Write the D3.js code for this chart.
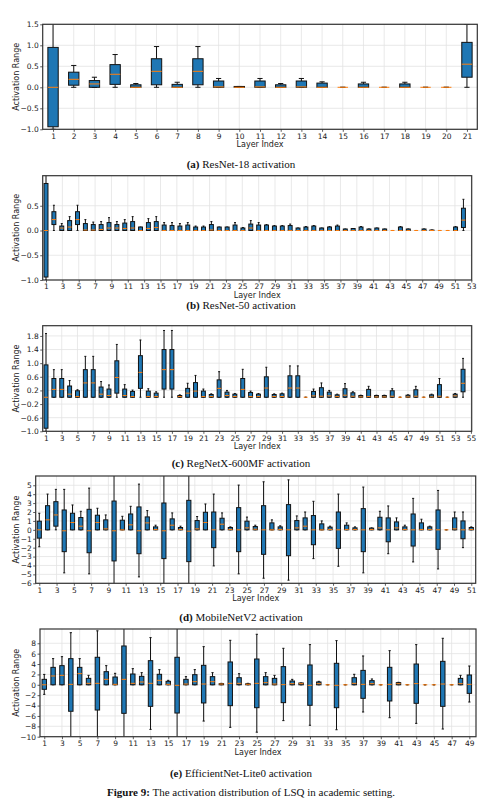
<!DOCTYPE html>
<html>
<head>
<meta charset="utf-8">
<script src="https://cdn.jsdelivr.net/npm/d3@7"></script>
<style>
  body { margin: 0; background: #fff; }
  svg { display: block; }
</style>
</head>
<body>
<svg id="fig" width="501" height="803"></svg>
<script>
// each row: [whisker low, q1, median, q3, whisker high] for one layer
var resnet18 = [
  [-1.0, -0.94, 0, 0.95, 1.6], [0, 0.05, 0.19, 0.36, 0.52], [0, 0, 0.08, 0.16, 0.24],
  [0, 0.07, 0.31, 0.54, 0.78], [0, 0, 0, 0.06, 0.09], [0, 0.06, 0.38, 0.68, 0.97],
  [0, 0, 0, 0.07, 0.12], [0, 0.06, 0.38, 0.68, 0.97], [0, 0, 0.01, 0.15, 0.21],
  [0, 0, 0, 0.02, 0.02], [0, 0, 0.01, 0.15, 0.21], [0, 0, 0, 0.06, 0.09],
  [0, 0, 0.01, 0.15, 0.21], [0, 0, 0, 0.1, 0.13], [0, 0, 0, 0, 0],
  [0, 0, 0, 0.08, 0.12], [0, 0, 0, 0, 0], [0, 0, 0, 0.08, 0.12],
  [0, 0, 0, 0, 0], [0, 0, 0, 0, 0], [0, 0.24, 0.55, 1.07, 1.5]
];

var resnet50 = [
  [-1.0, -0.94, 0, 0.95, 1.3], [0, 0.12, 0.22, 0.38, 0.51], [0, 0, 0.05, 0.09, 0.14],
  [0, 0, 0.07, 0.2, 0.28], [0, 0.12, 0.22, 0.38, 0.51], [0, 0, 0.01, 0.14, 0.22],
  [0, 0, 0.01, 0.12, 0.17], [0, 0, 0.02, 0.12, 0.18], [0, 0, 0.05, 0.16, 0.26],
  [0, 0, 0.05, 0.12, 0.18], [0, 0, 0.04, 0.15, 0.22], [0, 0, 0.05, 0.18, 0.28],
  [0, 0, 0, 0.07, 0.07], [0, 0, 0.04, 0.16, 0.24], [0, 0, 0.06, 0.18, 0.28],
  [0, 0, 0, 0.11, 0.16], [0, 0, 0, 0.1, 0.16], [0, 0, 0, 0.09, 0.14],
  [0, 0, 0, 0.11, 0.16], [0, 0, 0, 0.07, 0.09], [0, 0, 0, 0.07, 0.09],
  [0, 0, 0.01, 0.12, 0.18], [0, 0, 0, 0.07, 0.07], [0, 0, 0, 0.07, 0.07],
  [0, 0, 0, 0.11, 0.16], [0, 0, 0, 0.05, 0.06], [0, 0, 0.05, 0.13, 0.2],
  [0, 0, 0, 0.11, 0.16], [0, 0, 0, 0.11, 0.12], [0, 0, 0, 0.09, 0.1],
  [0, 0, 0, 0.09, 0.1], [0, 0, 0, 0.1, 0.13], [0, 0, 0, 0.05, 0.05],
  [0, 0, 0, 0.07, 0.08], [0, 0, 0, 0.09, 0.1], [0, 0, 0, 0.05, 0.05],
  [0, 0, 0, 0.07, 0.08], [0, 0, 0, 0.09, 0.11], [0, 0, 0, 0.03, 0.03],
  [0, 0, 0, 0.04, 0.04], [0, 0, 0, 0.07, 0.08], [0, 0, 0, 0.03, 0.03],
  [0, 0, 0, 0.05, 0.05], [0, 0, 0, 0.03, 0.03], [0, 0, 0, 0, 0],
  [0, 0, 0, 0.07, 0.08], [0, 0, 0, 0.03, 0.03], [0, 0, 0, 0, 0],
  [0, 0, 0, 0.03, 0.03], [0, 0, 0, 0.01, 0.01], [0, 0, 0, 0, 0],
  [0, 0, 0, 0, 0], [0, 0, 0, 0.07, 0.08], [0, 0.06, 0.21, 0.45, 0.63]
];

var regnet = [
  [-1.0, -0.91, 0, 0.95, 1.87], [0, 0, 0.23, 0.55, 0.81], [0, 0, 0.23, 0.55, 0.81],
  [0, 0, 0.09, 0.33, 0.49], [0, 0, 0.02, 0.19, 0.22], [0, 0, 0.42, 0.81, 1.2],
  [0, 0, 0.42, 0.81, 1.2], [0, 0, 0.09, 0.3, 0.46], [0, 0, 0.05, 0.24, 0.36],
  [0, 0.12, 0.58, 1.07, 1.55], [0, 0, 0.05, 0.24, 0.37], [0, 0, 0.02, 0.17, 0.21],
  [0, 0.26, 0.73, 1.22, 1.68], [0, 0, 0.02, 0.18, 0.25], [0, 0, 0.02, 0.12, 0.16],
  [0, 0.24, 0.81, 1.4, 1.96], [0, 0.24, 0.81, 1.4, 1.96], [0, 0, 0.02, 0.05, 0.07],
  [0, 0, 0.12, 0.26, 0.41], [0, 0, 0.18, 0.43, 0.64], [0, 0, 0.02, 0.18, 0.24],
  [0, 0, 0.02, 0.08, 0.1], [0, 0, 0.26, 0.51, 0.75], [0, 0, 0.05, 0.15, 0.2],
  [0, 0, 0.02, 0.09, 0.11], [0, 0, 0.23, 0.55, 0.82], [0, 0, 0.02, 0.14, 0.18],
  [0, 0, 0.02, 0.09, 0.11], [0, 0, 0.27, 0.6, 0.88], [0, 0, 0.02, 0.08, 0.1],
  [0, 0, 0.02, 0.1, 0.12], [0, 0, 0.27, 0.63, 0.92], [0, 0, 0.27, 0.63, 0.92],
  [0, 0, 0, 0, 0], [0, 0, 0.04, 0.17, 0.24], [0, 0, 0.03, 0.28, 0.42],
  [0, 0, 0.04, 0.15, 0.2], [0, 0, 0.02, 0.07, 0.09], [0, 0, 0.06, 0.25, 0.4],
  [0, 0, 0.03, 0.13, 0.16], [0, 0, 0.01, 0.05, 0.06], [0, 0, 0.02, 0.23, 0.32],
  [0, 0, 0.01, 0.05, 0.06], [0, 0, 0.01, 0.05, 0.06], [0, 0, 0.03, 0.19, 0.25],
  [0, 0, 0, 0, 0], [0, 0, 0.01, 0.06, 0.07], [0, 0, 0.03, 0.22, 0.32],
  [0, 0, 0, 0, 0], [0, 0, 0.01, 0.07, 0.09], [0, 0, 0.03, 0.37, 0.55],
  [0, 0, 0, 0, 0], [0, 0, 0.04, 0.09, 0.11], [0, 0.16, 0.41, 0.82, 1.14]
];

var mobilenet = [
  [-1.9, -0.93, 0, 0.97, 1.86], [0, 0, 1.12, 2.71, 4.01], [0, 0.41, 1.67, 3.16, 4.54],
  [-4.83, -2.45, -0.11, 2.23, 4.54], [0, 0, 0.82, 1.86, 2.79], [0, 0, 0.41, 1.38, 2.08],
  [-4.94, -2.57, -0.11, 2.3, 4.68], [0, 0, 0.82, 1.64, 2.42], [0, 0, 0.11, 1.12, 1.67],
  [-7, -3.49, -0.11, 3.23, 7], [0, 0, 0, 1.08, 1.52], [0, 0, 0.56, 1.78, 2.64],
  [-5.28, -2.68, -0.11, 2.57, 5.13], [0, 0, 0.78, 1.45, 2.16], [0, 0, 0.04, 0.33, 0.52],
  [-7, -3.23, -0.11, 3.01, 7], [0, 0, 0.52, 1.23, 1.9], [0, 0, 0.04, 0.26, 0.41],
  [-7, -3.57, -0.15, 3.31, 7], [0, 0, 0.11, 1.04, 1.49], [0, 0, 0.82, 1.97, 2.9],
  [-4.05, -2.0, 0, 2.0, 4.01], [0, 0, 0.63, 1.3, 1.9], [0, 0, 0.04, 0.26, 0.33],
  [-4.94, -2.45, 0, 2.49, 5.02], [0, 0, 0.22, 0.97, 1.43], [0, 0, 0.07, 0.37, 0.52],
  [-5.43, -2.75, 0, 2.71, 5.39], [0, 0, 0, 0.78, 1.12], [0, 0, 0.04, 0.33, 0.45],
  [-5.65, -2.9, 0, 2.83, 5.61], [0, 0, 0.22, 1.04, 1.56], [0, 0, 0.41, 1.34, 2.0],
  [-3.23, -1.67, 0, 1.6, 3.2], [0, 0, 0, 0.67, 1.0], [0, 0, 0.04, 0.3, 0.41],
  [-4.09, -2.08, 0, 2.0, 4.01], [0, 0, 0.04, 0.52, 0.78], [0, 0, 0.04, 0.22, 0.33],
  [-4.83, -2.45, 0, 2.38, 4.8], [0, 0, 0.04, 0.19, 0.22], [0, 0, 0.22, 1.41, 2.08],
  [-2.68, -1.34, 0, 1.34, 2.68], [0, 0, 0.22, 0.89, 1.34], [0, 0, 0.04, 0.33, 0.52],
  [-3.6, -1.82, 0, 1.78, 3.53], [0, 0, 0.04, 0.78, 1.19], [0, 0, 0.04, 0.33, 0.41],
  [-4.39, -2.19, 0, 2.23, 4.42], [0, 0, 0, 0, 0], [0, 0, 0.11, 1.34, 2.0],
  [-2.0, -1.0, 0, 1.0, 2.0], [0, 0, 0.04, 0.26, 0.33]
];

var efficientnet = [
  [-1.84, -0.87, 0, 1.05, 2.0], [0, 0, 1.7, 3.36, 5.04], [0, 0, 1.82, 3.69, 5.42],
  [-11, -5.1, 0.09, 5.04, 10.04], [0, 0, 2.15, 3.36, 5.04], [0, 0, 0.28, 1.24, 1.82],
  [-11, -4.86, 0.28, 5.3, 10.4], [0, 0, 1.05, 2.53, 3.69], [0, 0, 0.09, 1.5, 2.21],
  [-11, -5.5, 1.05, 7.48, 11.5], [0, 0, 0.28, 2.08, 3.11], [0, 0, 0.54, 1.63, 2.34],
  [-8.59, -4.15, 0.28, 4.65, 9.09], [0, 0, 0.86, 2.02, 2.92], [0, 0, 0.09, 0.67, 0.86],
  [-11, -5.44, -0.1, 5.3, 11.5], [0, 0, 0.15, 1.05, 1.57], [0, 0, 0.6, 1.95, 2.92],
  [-6.99, -3.5, 0.15, 3.75, 7.35], [0, 0, 0.6, 1.57, 2.34], [0, 0, 0.15, 0.22, 0.28],
  [-8.2, -4.02, 0.28, 4.4, 8.57], [0, 0, 0.28, 1.37, 2.14], [0, 0, 0.1, 0.2, 0.28],
  [-9.13, -4.41, 0.28, 4.97, 9.73], [0, 0, 0.41, 1.57, 2.34], [0, 0, 0.15, 1.24, 1.82],
  [-6.9, -3.44, 0.03, 3.5, 7.03], [0, 0, 0.22, 0.73, 1.05], [0, 0, 0.22, 0.35, 0.35],
  [-7.8, -3.95, -0.1, 3.82, 7.74], [0, 0, 0.22, 0.54, 0.67], [0, 0, 0, 0, 0],
  [-8.66, -4.41, -0.1, 4.14, 8.51], [0, 0, 0, 0, 0], [0, 0, 0.28, 1.37, 2.02],
  [-5.24, -2.61, 0.09, 2.78, 5.55], [0, 0, 0.22, 0.8, 1.12], [0, 0, 0, 0, 0],
  [-6.34, -3.12, 0.09, 3.37, 6.58], [0, 0, 0.22, 0.41, 0.48], [0, 0, 0, 0, 0],
  [-7.43, -3.57, 0.22, 4.0, 7.74], [0, 0, 0, 0, 0], [0, 0, 0, 0, 0],
  [-8.52, -4.15, 0.15, 4.52, 8.96], [0, 0, 0, 0, 0], [0, 0, 0.22, 1.24, 1.82],
  [-3.32, -1.65, 0.09, 1.89, 3.62]
];

// tick labels
var r18XTicks = d3.range(1, 22);
var r50XTicks = d3.range(1, 54, 2);
var regXTicks = d3.range(1, 56, 2);
var mobXTicks = d3.range(1, 52, 2);
var effXTicks = d3.range(1, 50, 2);

var r18YTicks = [-1.0, -0.5, 0.0, 0.5, 1.0, 1.5];
var r50YTicks = [-1.0, -0.5, 0.0, 0.5];
var regYTicks = [-1.0, -0.6, -0.2, 0.2, 0.6, 1.0, 1.4, 1.8];
var mobYTicks = [-6, -5, -4, -3, -2, -1, 0, 1, 2, 3, 4, 5];
var effYTicks = [-10, -8, -6, -4, -2, 0, 2, 4, 6, 8];

var svg = d3.select("#fig");
var tickFont = "DejaVu Sans, sans-serif";
var clipId = 0;

function panel(cfg) {
    var x = d3.scaleLinear().domain(cfg.xDomain).range([cfg.left, cfg.right]);
    var y = d3.scaleLinear().domain(cfg.yDomain).range([cfg.bottom, cfg.top]);
    // where a tick label sits, in box positions
    var tp = cfg.tickPos || (d => d);
    var g = svg.append("g");

    // grid
    g.append("g").selectAll("line").data(cfg.xTicks).join("line")
        .attr("x1", d => x(tp(d))).attr("x2", d => x(tp(d)))
        .attr("y1", cfg.top).attr("y2", cfg.bottom)
        .attr("stroke", "#e3e3e3").attr("stroke-width", 0.8);
    g.append("g").selectAll("line").data(cfg.yTicks).join("line")
        .attr("x1", cfg.left).attr("x2", cfg.right)
        .attr("y1", d => y(d)).attr("y2", d => y(d))
        .attr("stroke", "#e3e3e3").attr("stroke-width", 0.8);

    // axes
    var xAxis = d3.axisBottom(x)
        .tickValues(cfg.xTicks.map(tp))
        .tickFormat((d, i) => cfg.xTicks[i])
        .tickSize(2.5).tickPadding(1.5);
    var yAxis = d3.axisLeft(y)
        .tickValues(cfg.yTicks)
        .tickFormat(d3.format(cfg.yFmt))
        .tickSize(2.5).tickPadding(1.5);

    var gx = g.append("g").attr("transform", `translate(0,${cfg.bottom})`).call(xAxis);
    var gy = g.append("g").attr("transform", `translate(${cfg.left},0)`).call(yAxis);
    [gx, gy].forEach(a => {
        a.select(".domain").remove();
        a.selectAll(".tick line").attr("stroke", "#333").attr("stroke-width", 0.8);
        a.selectAll("text").attr("font-family", tickFont).attr("font-size", 7.5).attr("fill", "#222");
    });

    // boxes, clipped to the plot frame
    clipId++;
    svg.append("clipPath").attr("id", "clip" + clipId).append("rect")
        .attr("x", cfg.left).attr("y", cfg.top)
        .attr("width", cfg.right - cfg.left).attr("height", cfg.bottom - cfg.top);
    var bg = g.append("g").attr("clip-path", `url(#clip${clipId})`);

    var boxes = bg.selectAll("g.box").data(cfg.rows).join("g").attr("class", "box");
    // whiskers
    boxes.append("line")
        .attr("x1", (d, i) => x(i + 1)).attr("x2", (d, i) => x(i + 1))
        .attr("y1", d => y(d[0])).attr("y2", d => y(d[1]))
        .attr("stroke", "#111").attr("stroke-width", 1);
    boxes.append("line")
        .attr("x1", (d, i) => x(i + 1)).attr("x2", (d, i) => x(i + 1))
        .attr("y1", d => y(d[3])).attr("y2", d => y(d[4]))
        .attr("stroke", "#111").attr("stroke-width", 1);
    // caps
    [0, 4].forEach(k => {
        boxes.append("line")
            .attr("x1", (d, i) => x(i + 1 - 0.125)).attr("x2", (d, i) => x(i + 1 + 0.125))
            .attr("y1", d => y(d[k])).attr("y2", d => y(d[k]))
            .attr("stroke", "#111").attr("stroke-width", 1);
    });
    // box (zero height boxes simply draw nothing)
    boxes.append("rect")
        .attr("x", (d, i) => x(i + 1 - 0.25))
        .attr("width", (d, i) => x(i + 1 + 0.25) - x(i + 1 - 0.25))
        .attr("y", d => y(d[3]))
        .attr("height", d => y(d[1]) - y(d[3]))
        .attr("fill", "#1f77b4").attr("stroke", "#111").attr("stroke-width", 1);
    // median
    boxes.append("line")
        .attr("x1", (d, i) => x(i + 1 - 0.25)).attr("x2", (d, i) => x(i + 1 + 0.25))
        .attr("y1", d => y(d[2])).attr("y2", d => y(d[2]))
        .attr("stroke", "#ff7f0e").attr("stroke-width", 1);

    // frame
    g.append("rect")
        .attr("x", cfg.left).attr("y", cfg.top)
        .attr("width", cfg.right - cfg.left).attr("height", cfg.bottom - cfg.top)
        .attr("fill", "none").attr("stroke", "#333").attr("stroke-width", 1.2);

    // axis titles
    g.append("text")
        .attr("x", (cfg.left + cfg.right) / 2).attr("y", cfg.bottom + 15)
        .attr("dy", "0.35em").attr("text-anchor", "middle")
        .attr("font-family", tickFont).attr("font-size", 8).attr("fill", "#222")
        .text("Layer Index");
    g.append("text")
        .attr("transform", `translate(15.7,${(cfg.top + cfg.bottom) / 2}) rotate(-90)`)
        .attr("dy", "0.35em").attr("text-anchor", "middle")
        .attr("font-family", tickFont).attr("font-size", 8).attr("fill", "#222")
        .text("Activation Range");

    // sub caption
    var cap = svg.append("text")
        .attr("x", 241).attr("y", cfg.captionY)
        .attr("text-anchor", "middle")
        .attr("font-family", "Liberation Serif, Times New Roman, serif")
        .attr("font-size", 11).attr("fill", "#111");
    cap.append("tspan").attr("font-weight", "bold").text(cfg.tag);
    cap.append("tspan").text(" " + cfg.name);
}

panel({
    rows: resnet18, left: 42.7, right: 477.3, top: 24.3, bottom: 129.3,
    xDomain: [0.5, 21.5], yDomain: [-1, 1.5],
    xTicks: r18XTicks, yTicks: r18YTicks, yFmt: ".1f",
    tag: "(a)", name: "ResNet-18 activation", captionY: 168
});

panel({
    rows: resnet50, left: 42.7, right: 471.7, top: 175.7, bottom: 280,
    xDomain: [0.58, 55.05], yDomain: [-1, 1.107],
    xTicks: r50XTicks, yTicks: r50YTicks, yFmt: ".1f",
    tickPos: d3.scaleLinear().domain([1, 53]).range([1, 55]),
    tag: "(b)", name: "ResNet-50 activation", captionY: 309
});

panel({
    rows: regnet, left: 42.7, right: 471.7, top: 325.7, bottom: 431.3,
    xDomain: [0.58, 55.1], yDomain: [-1, 2.1],
    xTicks: regXTicks, yTicks: regYTicks, yFmt: ".1f",
    tag: "(c)", name: "RegNetX-600MF activation", captionY: 467
});

panel({
    rows: mobilenet, left: 35.7, right: 475.7, top: 476, bottom: 583.3,
    xDomain: [0.57, 53.53], yDomain: [-6, 6.04],
    xTicks: mobXTicks, yTicks: mobYTicks, yFmt: "d",
    tickPos: d3.scaleLinear().domain([1, 51]).range([1, 53]),
    tag: "(d)", name: "MobileNetV2 activation", captionY: 621
});

panel({
    rows: efficientnet, left: 40, right: 476, top: 629, bottom: 736.7,
    xDomain: [0.52, 49.75], yDomain: [-10, 10.75],
    xTicks: effXTicks, yTicks: effYTicks, yFmt: "d",
    tag: "(e)", name: "EfficientNet-Lite0 activation", captionY: 777
});

// figure caption
var fig = svg.append("text")
    .attr("x", 251).attr("y", 795.5)
    .attr("text-anchor", "middle")
    .attr("font-family", "Liberation Serif, Times New Roman, serif")
    .attr("font-size", 11).attr("fill", "#111");
fig.append("tspan").attr("font-weight", "bold").text("Figure 9:");
fig.append("tspan").text(" The activation distribution of LSQ in academic setting.");
</script>
</body>
</html>
